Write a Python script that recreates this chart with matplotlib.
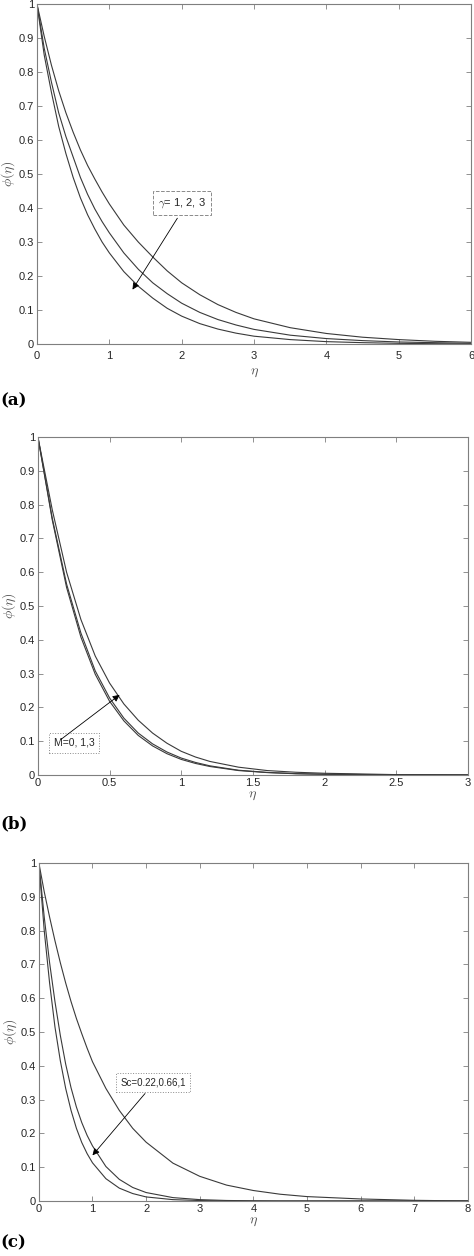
import numpy as np
import matplotlib
matplotlib.use("Agg")
import matplotlib.pyplot as plt

plt.rcParams['font.family'] = ['Liberation Sans', 'DejaVu Sans']
plt.rcParams['mathtext.fontset'] = 'cm'

# ---- panel (a): gamma = 1, 2, 3
eta_a = [0, 0.1, 0.2, 0.3, 0.4, 0.5, 0.6, 0.7, 0.8, 0.9, 1, 1.2, 1.4, 1.6, 1.8, 2,
         2.25, 2.5, 2.75, 3, 3.5, 4, 4.5, 5, 5.5, 6]
phi_a1 = [1, 0.905, 0.82, 0.745, 0.68, 0.623, 0.571, 0.525, 0.485, 0.447, 0.412, 0.35, 0.30,
          0.256, 0.215, 0.18, 0.145, 0.116, 0.093, 0.074, 0.048, 0.031, 0.02, 0.013, 0.008, 0.005]
phi_a2 = [1, 0.87, 0.77, 0.68, 0.61, 0.55, 0.49, 0.44, 0.397, 0.36, 0.327, 0.268, 0.22,
          0.18, 0.148, 0.12, 0.093, 0.072, 0.056, 0.043, 0.026, 0.016, 0.01, 0.006, 0.004, 0.002]
phi_a3 = [1, 0.85, 0.74, 0.64, 0.56, 0.49, 0.43, 0.38, 0.338, 0.30, 0.268, 0.213, 0.17,
          0.135, 0.105, 0.082, 0.06, 0.044, 0.032, 0.023, 0.013, 0.007, 0.004, 0.002, 0.001, 0.0]

# ---- panel (b): M = 0, 1, 3
eta_b = [0, 0.1, 0.2, 0.3, 0.4, 0.5, 0.6, 0.7, 0.8, 0.9, 1, 1.1, 1.2, 1.4, 1.6, 1.8, 2, 2.5, 3]
phi_b1 = [1, 0.785, 0.60, 0.46, 0.352, 0.272, 0.21, 0.162, 0.124, 0.094, 0.07, 0.053, 0.04,
          0.023, 0.013, 0.008, 0.005, 0.001, 0]
phi_b2 = [1, 0.76, 0.565, 0.42, 0.308, 0.228, 0.168, 0.124, 0.092, 0.068, 0.05, 0.037, 0.027,
          0.014, 0.0075, 0.004, 0.002, 0.0005, 0]
phi_b3 = [1, 0.755, 0.555, 0.408, 0.298, 0.218, 0.16, 0.117, 0.086, 0.063, 0.046, 0.034, 0.025,
          0.013, 0.007, 0.0035, 0.002, 0.0004, 0]

# ---- panel (c): Sc = 0.22, 0.66, 1
eta_c = [0, 0.1, 0.2, 0.3, 0.4, 0.5, 0.6, 0.7, 0.8, 0.9, 1, 1.25, 1.5, 1.75, 2, 2.5, 3,
         3.5, 4, 4.5, 5, 6, 7, 8]
phi_c1 = [1, 0.915, 0.84, 0.77, 0.705, 0.645, 0.59, 0.54, 0.495, 0.452, 0.412, 0.333, 0.268,
          0.215, 0.174, 0.112, 0.073, 0.047, 0.031, 0.02, 0.013, 0.006, 0.002, 0]
phi_c2 = [1, 0.84, 0.705, 0.59, 0.49, 0.405, 0.335, 0.278, 0.232, 0.194, 0.163, 0.102, 0.064,
          0.04, 0.025, 0.01, 0.004, 0.0015, 0.0006, 0, 0, 0, 0, 0]
phi_c3 = [1, 0.80, 0.645, 0.515, 0.415, 0.333, 0.268, 0.215, 0.173, 0.14, 0.113, 0.066, 0.038,
          0.022, 0.012, 0.004, 0.0013, 0.0004, 0, 0, 0, 0, 0, 0]

yticks = [0, 0.1, 0.2, 0.3, 0.4, 0.5, 0.6, 0.7, 0.8, 0.9, 1]
ytick_labels = ['0', '0.1', '0.2', '0.3', '0.4', '0.5', '0.6', '0.7', '0.8', '0.9', '1']

panels = [
    dict(eta=eta_a, curves=[phi_a1, phi_a2, phi_a3], xmax=6,
         xticks=[0, 1, 2, 3, 4, 5, 6], xlabels=['0', '1', '2', '3', '4', '5', '6'],
         rect=[0.078, 0.7261, 0.916, 0.2707], tag='(a)', tag_y=0.674, xpad=5, labelpad=3,
         text=r'$\gamma$= 1, 2, 3', text_xy=(1.67, 0.415), ls='--', fs=8,
         arrow_from=(1.94, 0.37), arrow_to=(1.32, 0.16)),
    dict(eta=eta_b, curves=[phi_b1, phi_b2, phi_b3], xmax=3,
         xticks=[0, 0.5, 1, 1.5, 2, 2.5, 3], xlabels=['0', '0.5', '1', '1.5', '2', '2.5', '3'],
         rect=[0.080, 0.383, 0.907, 0.269], tag='(b)', tag_y=0.337, xpad=2, labelpad=0,
         text='M=0, 1,3', text_xy=(0.11, 0.095), ls=':', fs=7.5,
         arrow_from=(0.16, 0.105), arrow_to=(0.57, 0.237)),
    dict(eta=eta_c, curves=[phi_c1, phi_c2, phi_c3], xmax=8,
         xticks=[0, 1, 2, 3, 4, 5, 6, 7, 8], xlabels=['0', '1', '2', '3', '4', '5', '6', '7', '8'],
         rect=[0.082, 0.0438, 0.905, 0.2691], tag='(c)', tag_y=0.004, xpad=2, labelpad=0,
         text='Sc=0.22,0.66,1', text_xy=(1.52, 0.35), ls=':', fs=7,
         arrow_from=(1.98, 0.318), arrow_to=(1.0, 0.135)),
]

fig = plt.figure(figsize=(4.74, 12.56), dpi=100)
grey = '#7f7f7f'

for p in panels:
    ax = fig.add_axes(p['rect'])
    for phi in p['curves']:
        ax.plot(p['eta'], phi, color='#3a3a3a', lw=0.8)
    ax.set_xlim(0, p['xmax'])
    ax.set_ylim(0, 1)
    ax.set_xticks(p['xticks'])
    ax.set_xticklabels(p['xlabels'])
    ax.set_yticks(yticks)
    ax.set_yticklabels(ytick_labels)
    ax.tick_params(direction='in', top=True, right=True, length=3.5, width=0.6,
                   color=grey, labelsize=8, labelcolor='#262626', pad=2)
    ax.tick_params(axis='x', pad=p['xpad'])
    for s in ax.spines.values():
        s.set_color(grey)
        s.set_linewidth(0.8)
    ax.set_xlabel(r'$\eta$', fontsize=10, color='#555555', labelpad=p['labelpad'])
    ax.set_ylabel(r'$\phi(\eta)$', fontsize=10, color='#555555', labelpad=1)
    ax.text(p['text_xy'][0], p['text_xy'][1], p['text'], fontsize=p['fs'], color='#262626',
            va='center', ha='left',
            bbox=dict(boxstyle='square,pad=0.45', fc='white', ec='#8a8a8a', ls=p['ls'], lw=0.7))
    ax.annotate('', xy=p['arrow_to'], xytext=p['arrow_from'],
                arrowprops=dict(arrowstyle='-|>', color='black', lw=0.6, mutation_scale=10,
                                shrinkA=0, shrinkB=0))
    fig.text(0.0, p['tag_y'], p['tag'], fontsize=12, fontweight='bold',
             family='DejaVu Serif', ha='left', va='bottom')

fig.savefig('out.png', dpi=100)
